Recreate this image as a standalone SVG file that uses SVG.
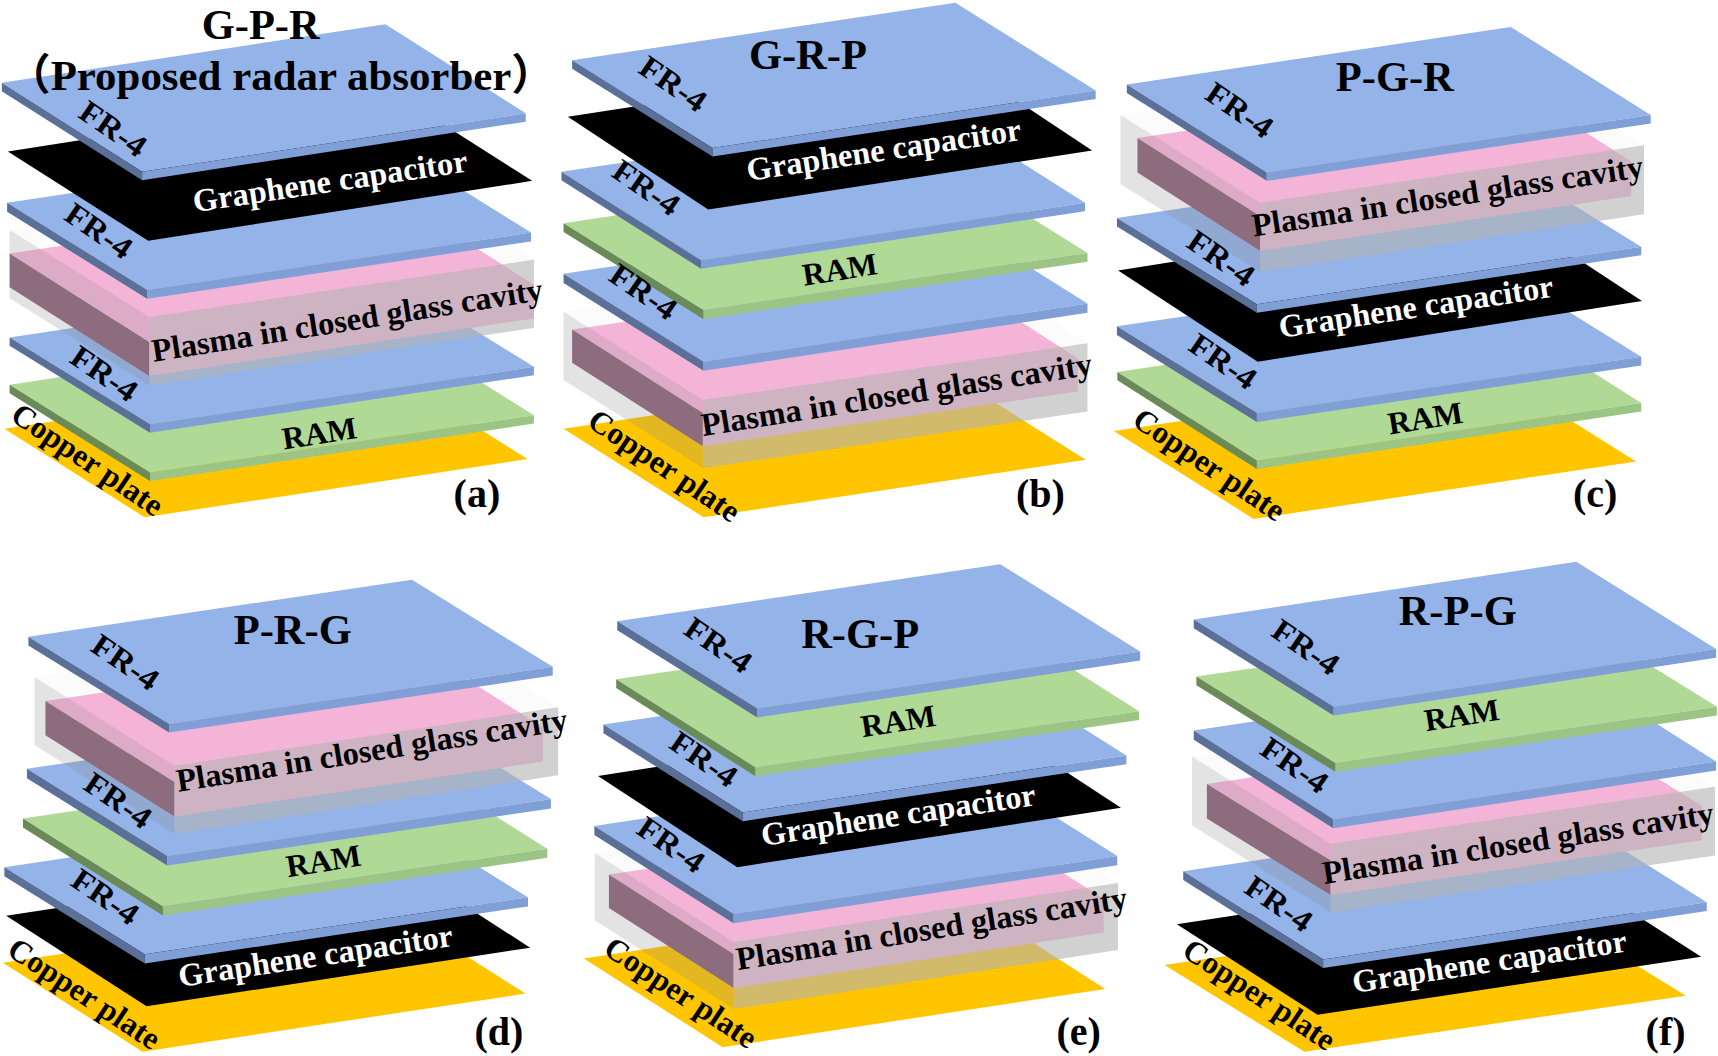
<svg xmlns="http://www.w3.org/2000/svg" width="1718" height="1056" viewBox="0 0 1718 1056">
<style>
text{font-family:"Liberation Serif","Noto Sans CJK SC",serif;font-weight:bold;fill:#000;font-size:31.5px}
.w{fill:#fff}
.big{font-size:32.5px}
.ttl{font-size:42.5px;text-anchor:middle}
.sub{font-size:42.9px;text-anchor:middle}
.cap{font-size:40px}
.bt{fill:#94b3e8}.bf{fill:#7f9fd6}.bl{fill:#5a7099}
.gt{fill:#afd995}.gf{fill:#9cc585}.gl{fill:#6a8b58}
.k{fill:#000}.cu{fill:#ffc600}
.pt{fill:#f8b6da}.pf{fill:#f8b6da}.pl{fill:#8e637a}
.ct{fill:#888;fill-opacity:.03}.cf{fill:#b2b2b2;fill-opacity:.6}.cl{fill:#8c8c8c;fill-opacity:.24}
</style>
<rect width="1718" height="1056" fill="#fff"/>

<g id="panel-a">
<g transform="scale(.35714 .33807)">
<g id="a-copper"><polygon class="cu" points="12,1268 1084,1096 1477,1358 405,1530"/></g>
<g id="a-ram"><polygon class="gt" points="27,1138 1102,968 1495,1228 420,1398"/><polygon class="gl" points="27,1138 420,1398 420,1423 27,1163"/><polygon class="gf" points="420,1398 1495,1228 1495,1253 420,1423"/></g>
<g id="a-fr4-3"><polygon class="bt" points="27,998 1102,828 1495,1085 420,1255"/><polygon class="bl" points="27,998 420,1255 420,1280 27,1023"/><polygon class="bf" points="420,1255 1495,1085 1495,1110 420,1280"/></g>
<g id="a-plasma"><polygon class="pt" points="27,750 1104,580 1495,842 418,1012"/><polygon class="pl" points="27,750 418,1012 418,1112 27,850"/><polygon class="pf" points="418,1012 1495,842 1495,942 418,1112"/><polygon class="ct" points="27,680 1104,510 1495,768 418,938"/><polygon class="cl" points="27,680 418,938 418,1140 27,882"/><polygon class="cf" points="418,938 1495,768 1495,970 418,1140"/></g>
<g id="a-fr4-2"><polygon class="bt" points="20,600 1095,430 1487,688 412,858"/><polygon class="bl" points="20,600 412,858 412,884 20,626"/><polygon class="bf" points="412,858 1487,688 1487,714 412,884"/></g>
<g id="a-graphene"><polygon class="k" points="22,448 1097,271 1490,535 415,712"/></g>
<g id="a-fr4-1"><polygon class="bt" points="5,245 1079,72 1472,335 398,508"/><polygon class="bl" points="5,245 398,508 398,533 5,270"/><polygon class="bf" points="398,508 1472,335 1472,360 398,533"/></g>
</g>
<g id="a-labels">
<text class="ttl" x="260.7" y="39">G-P-R</text>
<text class="sub" x="281" y="90">（Proposed radar absorber）</text>
<text transform="translate(76.8 116.6) rotate(34.5) scale(1.08 1)">FR-4</text>
<text transform="translate(62.5 218.7) rotate(34.5) scale(1.08 1)">FR-4</text>
<text transform="translate(67.9 361.4) rotate(34.5) scale(1.08 1)">FR-4</text>
<text class="w big" transform="translate(194.6 212.3) rotate(-8.5)">Graphene capacitor</text>
<text class="big" transform="translate(153.6 361.7) rotate(-9)">Plasma in closed glass cavity</text>
<text transform="translate(283.9 449.6) rotate(-9)">RAM</text>
<text transform="translate(8.9 419.2) rotate(34)">Copper plate</text>
<text class="cap" x="453.6" y="507">(a)</text>
</g>
</g>

<g id="panel-b">
<g transform="translate(550 0) scale(.35714 .33807)">
<g id="b-copper"><polygon class="cu" points="38,1268 1108,1098 1500,1360 430,1530"/></g>
<g id="b-plasma"><polygon class="pt" points="62,975 1112,813 1478,1060 428,1222"/><polygon class="pl" points="62,975 428,1222 428,1320 62,1073"/><polygon class="pf" points="428,1222 1478,1060 1478,1158 428,1320"/><polygon class="ct" points="38,922 1115,754 1505,1015 428,1183"/><polygon class="cl" points="38,922 428,1183 428,1385 38,1124"/><polygon class="cf" points="428,1183 1505,1015 1505,1217 428,1385"/></g>
<g id="b-fr4-3"><polygon class="bt" points="38,810 1113,638 1505,898 430,1070"/><polygon class="bl" points="38,810 430,1070 430,1097 38,837"/><polygon class="bf" points="430,1070 1505,898 1505,925 430,1097"/></g>
<g id="b-ram"><polygon class="gt" points="38,660 1113,490 1505,748 430,918"/><polygon class="gl" points="38,660 430,918 430,944 38,686"/><polygon class="gf" points="430,918 1505,748 1505,774 430,944"/></g>
<g id="b-fr4-2"><polygon class="bt" points="32,508 1107,338 1498,600 423,770"/><polygon class="bl" points="32,508 423,770 423,795 32,533"/><polygon class="bf" points="423,770 1498,600 1498,625 423,795"/></g>
<g id="b-graphene"><polygon class="k" points="50,345 1125,170 1518,445 443,620"/></g>
<g id="b-fr4-1"><polygon class="bt" points="62,178 1135,8 1528,268 455,438"/><polygon class="bl" points="62,178 455,438 455,463 62,203"/><polygon class="bf" points="455,438 1528,268 1528,293 455,463"/></g>
</g>
<g id="b-labels">
<text class="ttl" x="807.9" y="69.3">G-R-P</text>
<text transform="translate(636.8 71.7) rotate(34.5) scale(1.08 1)">FR-4</text>
<text transform="translate(610 175.5) rotate(34.5) scale(1.08 1)">FR-4</text>
<text transform="translate(607.1 279.6) rotate(34.5) scale(1.08 1)">FR-4</text>
<text class="w big" transform="translate(748.2 180.9) rotate(-8.5)">Graphene capacitor</text>
<text transform="translate(804.3 285.7) rotate(-9)">RAM</text>
<text class="big" transform="translate(702.9 436.1) rotate(-9)">Plasma in closed glass cavity</text>
<text transform="translate(585.7 425.3) rotate(34)">Copper plate</text>
<text class="cap" x="1016" y="507">(b)</text>
</g>
</g>

<g id="panel-c">
<g transform="translate(1100 0) scale(.3942 .33807)">
<g id="c-copper"><polygon class="cu" points="35,1275 1005,1105 1360,1365 390,1535"/></g>
<g id="c-ram"><polygon class="gt" points="44,1100 1019,930 1373,1192 398,1362"/><polygon class="gl" points="44,1100 398,1362 398,1387 44,1125"/><polygon class="gf" points="398,1362 1373,1192 1373,1217 398,1387"/></g>
<g id="c-fr4-3"><polygon class="bt" points="43,965 1018,798 1373,1055 398,1222"/><polygon class="bl" points="43,965 398,1222 398,1248 43,991"/><polygon class="bf" points="398,1222 1373,1055 1373,1081 398,1248"/></g>
<g id="c-graphene"><polygon class="k" points="46,800 1021,620 1375,890 400,1070"/></g>
<g id="c-fr4-2"><polygon class="bt" points="43,645 1018,475 1373,730 398,900"/><polygon class="bl" points="43,645 398,900 398,925 43,670"/><polygon class="bf" points="398,900 1373,730 1373,755 398,925"/></g>
<g id="c-plasma"><polygon class="pt" points="95,408 1037,246 1348,478 406,640"/><polygon class="pl" points="95,408 406,640 406,742 95,510"/><polygon class="pf" points="406,640 1348,478 1348,580 406,742"/><polygon class="ct" points="52,340 1026,170 1380,430 406,600"/><polygon class="cl" points="52,340 406,600 406,804 52,544"/><polygon class="cf" points="406,600 1380,430 1380,634 406,804"/></g>
<g id="c-fr4-1"><polygon class="bt" points="68,250 1042,80 1397,340 423,510"/><polygon class="bl" points="68,250 423,510 423,535 68,275"/><polygon class="bf" points="423,510 1397,340 1397,365 423,535"/></g>
</g>
<g id="c-labels">
<text class="ttl" x="1394.8" y="90.6">P-G-R</text>
<text transform="translate(1203.3 98) rotate(34.5) scale(1.08 1)">FR-4</text>
<text transform="translate(1184.7 246.1) rotate(34.5) scale(1.08 1)">FR-4</text>
<text transform="translate(1186.7 349.2) rotate(34.5) scale(1.08 1)">FR-4</text>
<text class="big" transform="translate(1253.7 236.6) rotate(-8.7)">Plasma in closed glass cavity</text>
<text class="w big" transform="translate(1280.5 338.1) rotate(-8.6)">Graphene capacitor</text>
<text transform="translate(1389.7 434.4) rotate(-9)">RAM</text>
<text transform="translate(1130.7 424.3) rotate(34)">Copper plate</text>
<text class="cap" x="1573" y="507">(c)</text>
</g>
</g>

<g id="panel-d">
<g transform="translate(0 530) scale(.36364 .33547)">
<g id="d-copper"><polygon class="cu" points="8,1290 1061,1117 1445,1382 392,1555"/></g>
<g id="d-graphene"><polygon class="k" points="17,1150 1072,975 1458,1245 403,1420"/></g>
<g id="d-fr4-3"><polygon class="bt" points="12,1005 1066,835 1452,1095 398,1265"/><polygon class="bl" points="12,1005 398,1265 398,1292 12,1032"/><polygon class="bf" points="398,1265 1452,1095 1452,1122 398,1292"/></g>
<g id="d-ram"><polygon class="gt" points="63,860 1120,688 1505,950 448,1122"/><polygon class="gl" points="63,860 448,1122 448,1149 63,887"/><polygon class="gf" points="448,1122 1505,950 1505,977 448,1149"/></g>
<g id="d-fr4-2"><polygon class="bt" points="74,712 1129,542 1515,802 460,972"/><polygon class="bl" points="74,712 460,972 460,1000 74,740"/><polygon class="bf" points="460,972 1515,802 1515,830 460,1000"/></g>
<g id="d-plasma"><polygon class="pt" points="125,510 1138,346 1493,588 480,752"/><polygon class="pl" points="125,510 480,752 480,854 125,612"/><polygon class="pf" points="480,752 1493,588 1493,690 480,854"/><polygon class="ct" points="95,438 1150,263 1535,528 480,703"/><polygon class="cl" points="95,438 480,703 480,906 95,641"/><polygon class="cf" points="480,703 1535,528 1535,731 480,906"/></g>
<g id="d-fr4-1"><polygon class="bt" points="78,318 1133,148 1520,408 465,578"/><polygon class="bl" points="78,318 465,578 465,604 78,344"/><polygon class="bf" points="465,578 1520,408 1520,434 465,604"/></g>
</g>
<g id="d-labels">
<text class="ttl" x="292.7" y="644.1">P-R-G</text>
<text transform="translate(89.1 650.1) rotate(34.5) scale(1.08 1)">FR-4</text>
<text transform="translate(81.8 788.3) rotate(34.5) scale(1.08 1)">FR-4</text>
<text transform="translate(69.1 884.6) rotate(34.5) scale(1.08 1)">FR-4</text>
<text class="big" transform="translate(178.2 791.7) rotate(-9)">Plasma in closed glass cavity</text>
<text transform="translate(288 877.2) rotate(-9)">RAM</text>
<text class="w big" transform="translate(180 986.9) rotate(-8.5)">Graphene capacitor</text>
<text transform="translate(5.5 954) rotate(33.5)">Copper plate</text>
<text class="cap" x="474.5" y="1044.9">(d)</text>
</g>
</g>

<g id="panel-e">
<g transform="translate(570 530) scale(.36364 .33547)">
<g id="e-copper"><polygon class="cu" points="38,1277 1090,1103 1472,1368 420,1542"/></g>
<g id="e-plasma"><polygon class="pt" points="107,1027 1125,862 1468,1100 450,1265"/><polygon class="pl" points="107,1027 450,1265 450,1365 107,1127"/><polygon class="pf" points="450,1265 1468,1100 1468,1200 450,1365"/><polygon class="ct" points="68,963 1125,787 1507,1052 450,1228"/><polygon class="cl" points="68,963 450,1228 450,1428 68,1163"/><polygon class="cf" points="450,1228 1507,1052 1507,1252 450,1428"/></g>
<g id="e-fr4-3"><polygon class="bt" points="67,882 1122,709 1505,972 450,1145"/><polygon class="bl" points="67,882 450,1145 450,1172 67,909"/><polygon class="bf" points="450,1145 1505,972 1505,999 450,1172"/></g>
<g id="e-graphene"><polygon class="k" points="77,733 1132,556 1515,828 460,1005"/></g>
<g id="e-fr4-2"><polygon class="bt" points="92,580 1147,410 1530,672 475,842"/><polygon class="bl" points="92,580 475,842 475,868 92,606"/><polygon class="bf" points="475,842 1530,672 1530,698 475,868"/></g>
<g id="e-ram"><polygon class="gt" points="127,445 1182,277 1565,540 510,708"/><polygon class="gl" points="127,445 510,708 510,734 127,471"/><polygon class="gf" points="510,708 1565,540 1565,566 510,734"/></g>
<g id="e-fr4-1"><polygon class="bt" points="130,272 1183,102 1568,362 515,532"/><polygon class="bl" points="130,272 515,532 515,559 130,299"/><polygon class="bf" points="515,532 1568,362 1568,389 515,559"/></g>
</g>
<g id="e-labels">
<text class="ttl" x="860.2" y="648.4">R-G-P</text>
<text transform="translate(682 633) rotate(34.5) scale(1.08 1)">FR-4</text>
<text transform="translate(667.5 747) rotate(34.5) scale(1.08 1)">FR-4</text>
<text transform="translate(634.7 832.6) rotate(34.5) scale(1.08 1)">FR-4</text>
<text transform="translate(862.7 737.3) rotate(-9)">RAM</text>
<text class="w big" transform="translate(762.7 846) rotate(-8.5)">Graphene capacitor</text>
<text class="big" transform="translate(738 970.1) rotate(-9)">Plasma in closed glass cavity</text>
<text transform="translate(602 953) rotate(33.5)">Copper plate</text>
<text class="cap" x="1056.5" y="1044.9">(e)</text>
</g>
</g>

<g id="panel-f">
<g transform="translate(1130 530) scale(.375 .33547)">
<g id="f-copper"><polygon class="cu" points="92,1297 1109,1130 1482,1388 465,1555"/></g>
<g id="f-graphene"><polygon class="k" points="125,1175 1148,1002 1523,1272 500,1445"/></g>
<g id="f-fr4-3"><polygon class="bt" points="142,1017 1165,847 1538,1110 515,1280"/><polygon class="bl" points="142,1017 515,1280 515,1306 142,1043"/><polygon class="bf" points="515,1280 1538,1110 1538,1136 515,1306"/></g>
<g id="f-plasma"><polygon class="pt" points="205,757 1195,594 1525,822 535,985"/><polygon class="pl" points="205,757 535,985 535,1088 205,860"/><polygon class="pf" points="535,985 1525,822 1525,925 535,1088"/><polygon class="ct" points="165,675 1190,505 1560,765 535,935"/><polygon class="cl" points="165,675 535,935 535,1140 165,880"/><polygon class="cf" points="535,935 1560,765 1560,970 535,1140"/></g>
<g id="f-fr4-2"><polygon class="bt" points="170,598 1191,426 1563,690 542,862"/><polygon class="bl" points="170,598 542,862 542,889 170,625"/><polygon class="bf" points="542,862 1563,690 1563,717 542,889"/></g>
<g id="f-ram"><polygon class="gt" points="177,437 1194,269 1565,527 548,695"/><polygon class="gl" points="177,437 548,695 548,721 177,463"/><polygon class="gf" points="548,695 1565,527 1565,553 548,721"/></g>
<g id="f-fr4-1"><polygon class="bt" points="170,267 1190,95 1563,355 543,527"/><polygon class="bl" points="170,267 543,527 543,553 170,293"/><polygon class="bf" points="543,527 1563,355 1563,381 543,553"/></g>
</g>
<g id="f-labels">
<text class="ttl" x="1457.7" y="624.9">R-P-G</text>
<text transform="translate(1269.5 635) rotate(34.5) scale(1.08 1)">FR-4</text>
<text transform="translate(1258.2 753.1) rotate(34.5) scale(1.08 1)">FR-4</text>
<text transform="translate(1242.5 891.6) rotate(34.5) scale(1.08 1)">FR-4</text>
<text transform="translate(1426.2 731.3) rotate(-9)">RAM</text>
<text class="big" transform="translate(1324.2 883.9) rotate(-8.8)">Plasma in closed glass cavity</text>
<text class="w big" transform="translate(1353.9 992.9) rotate(-8.6)">Graphene capacitor</text>
<text transform="translate(1180.6 955) rotate(33.5)">Copper plate</text>
<text class="cap" x="1645.6" y="1044.9">(f)</text>
</g>
</g>
</svg>
